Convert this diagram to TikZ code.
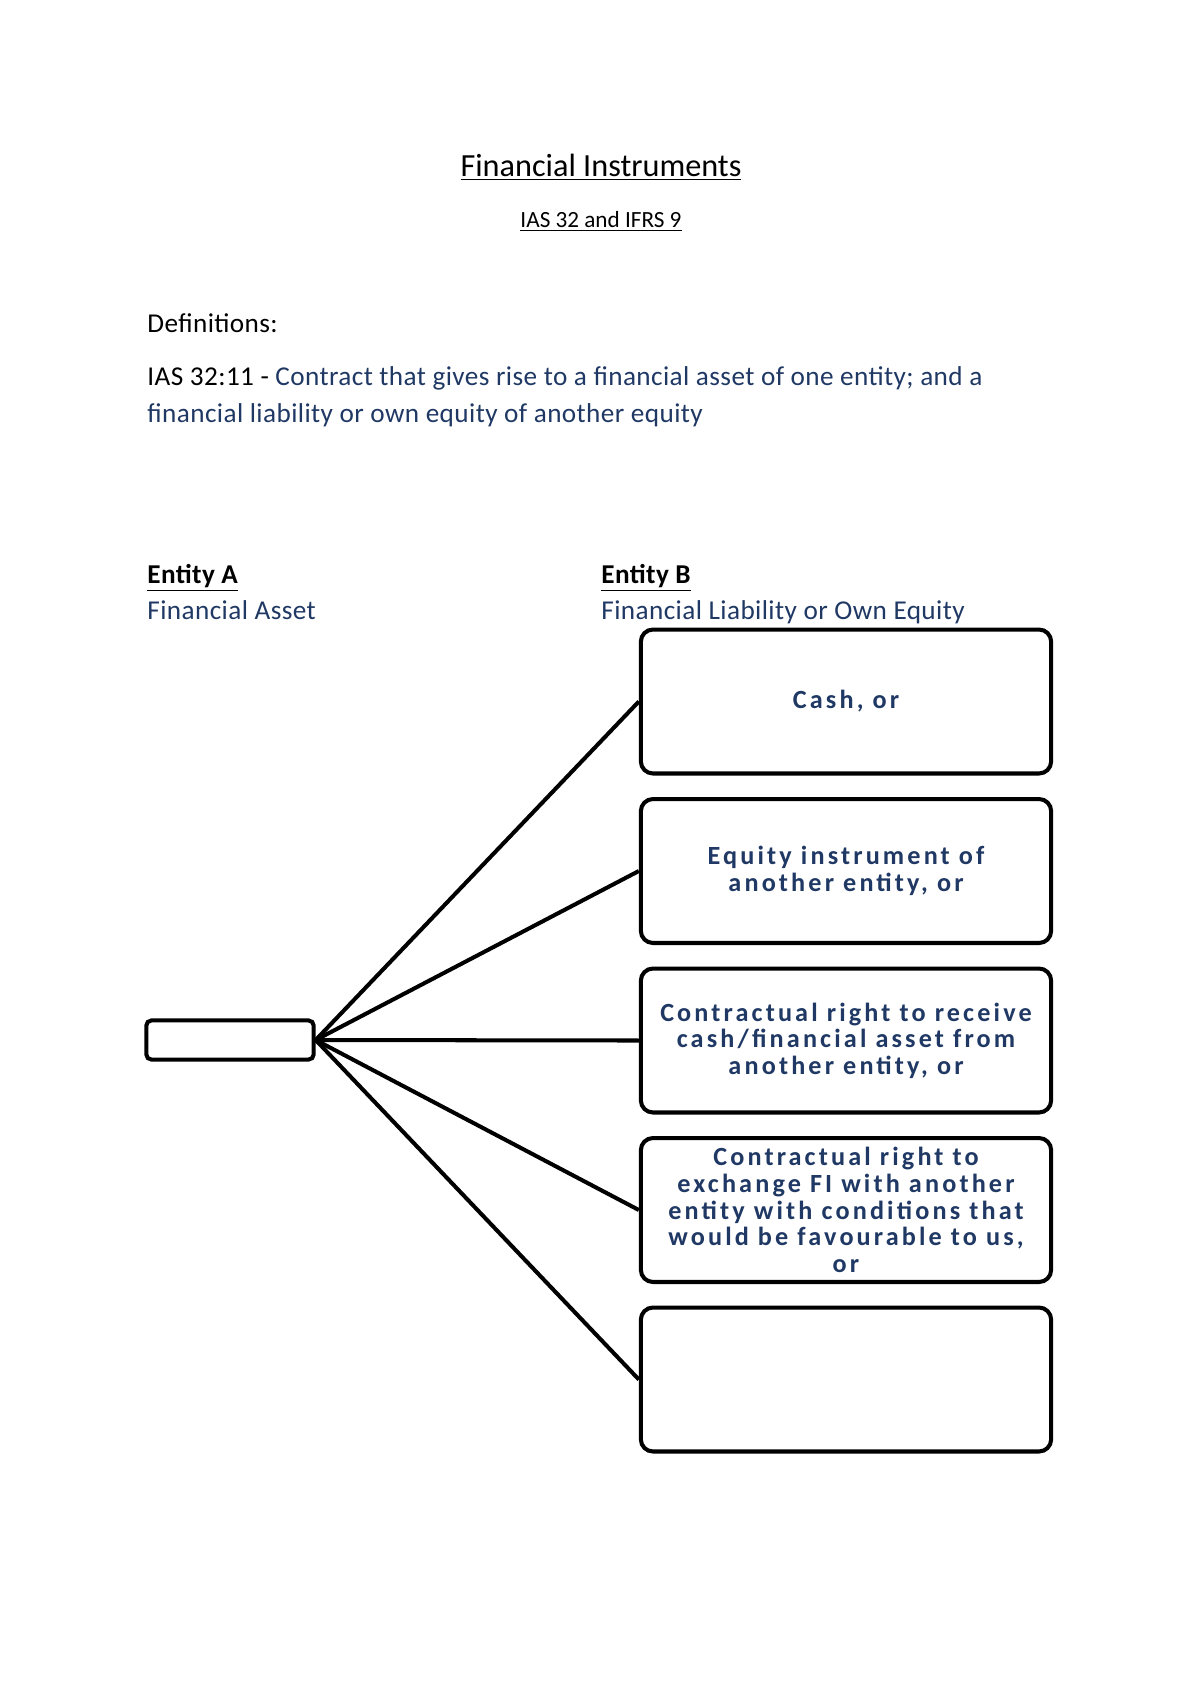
\documentclass[tikz,border=0pt]{standalone}
\usepackage{fontspec}
\setmainfont{Carlito}
\newfontfamily\bodyfont[LetterSpace=1.5]{Carlito}
\newfontfamily\boxfont[LetterSpace=12]{Carlito}

\definecolor{ifrsblue}{RGB}{31,56,100}

\tikzset{
  heading/.style={anchor=base,inner sep=0pt},
  bodytext/.style={anchor=base west,inner sep=0pt,font=\bodyfont\fontsize{13.5}{16}\selectfont},
  itembox/.style={draw,line width=2pt,rounded corners=6pt,minimum width=203.5pt,
    minimum height=71.4pt,align=center,text=ifrsblue,
    font=\boxfont\bfseries\fontsize{13}{13.2}\selectfont},
  assetbox/.style={draw,line width=2pt,rounded corners=2.5pt,minimum width=83pt,
    minimum height=19.4pt},
  link/.style={line width=2pt}
}

\begin{document}
\begin{tikzpicture}[x=0.496pt,y=0.496pt,yscale=-1,xscale=1]
  \useasboundingbox (0,0) rectangle (1200,1698);

  % Text Node
  \node[heading,font=\fontsize{16}{19}\selectfont] (title) at (601,176) {\underline{Financial Instruments}};
  % Text Node
  \node[heading,font=\fontsize{11.5}{14}\selectfont] (standard) at (601,227) {\underline{IAS 32 and IFRS 9}};
  % Text Node
  \node[bodytext] (defs) at (147,332) {Definitions:};
  % Text Node
  \node[bodytext] (defline1) at (147,385) {IAS 32:11 - \textcolor{ifrsblue}{Contract that gives rise to a financial asset of one entity; and a}};
  % Text Node
  \node[bodytext,text=ifrsblue] (defline2) at (147,422) {financial liability or own equity of another equity};

  % Text Node
  \node[bodytext,font=\bodyfont\bfseries\fontsize{13.5}{16}\selectfont] (entA) at (147,583) {\underline{Entity A}};
  \node[bodytext,text=ifrsblue] (entAsub) at (147,619) {Financial Asset};
  % Text Node
  \node[bodytext,font=\bodyfont\bfseries\fontsize{13.5}{16}\selectfont] (entB) at (601,583) {\underline{Entity B}};
  \node[bodytext,text=ifrsblue] (entBsub) at (601,619) {Financial Liability or Own Equity};

  %Shape: Rectangle
  \node[assetbox] (asset) at (230,1040) {};

  %Shape: Rounded Rectangles
  \node[itembox] (item1) at (846,701.5) {Cash, or};
  \node[itembox] (item2) at (846,871) {Equity instrument of\\another entity, or};
  \node[itembox] (item3) at (846,1040.5) {Contractual right to receive\\cash/financial asset from\\another entity, or};
  \node[itembox] (item4) at (846,1210) {Contractual right to\\exchange FI with another\\entity with conditions that\\would be favourable to us,\\or};
  \node[itembox] (item5) at (846,1379.5) {};

  %Straight Lines
  \foreach \i in {1,...,5}
    \draw[link] (asset.east) -- (item\i.west);
\end{tikzpicture}
\end{document}
